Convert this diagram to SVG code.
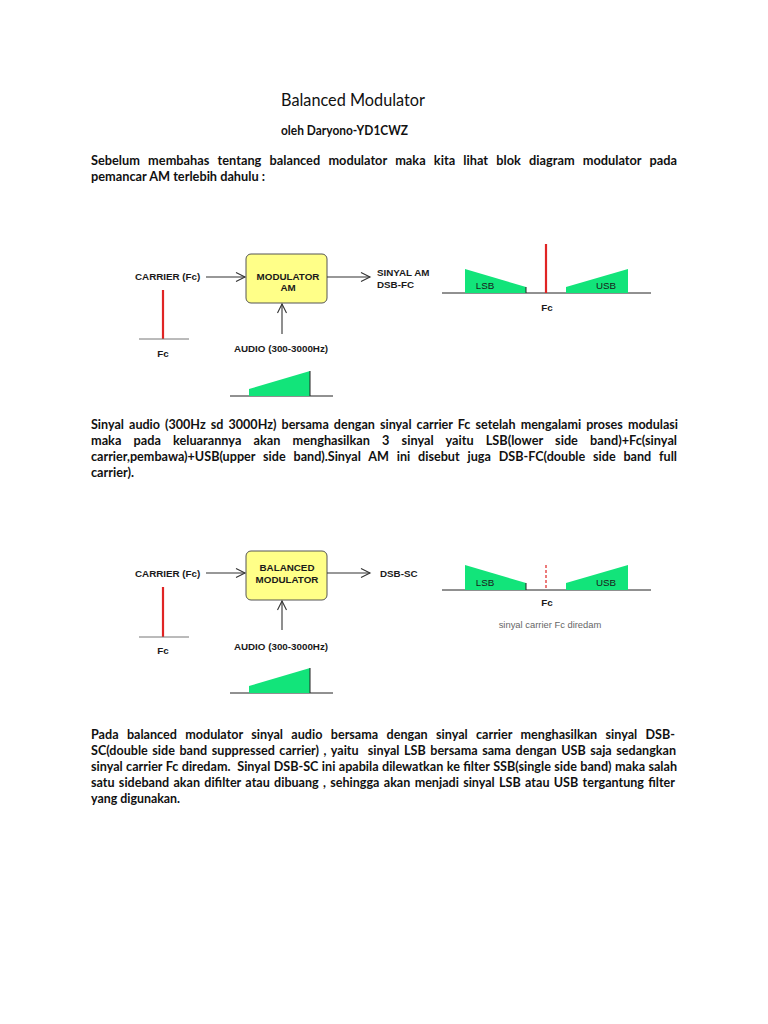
<svg xmlns="http://www.w3.org/2000/svg" width="768" height="1024" viewBox="0 0 768 1024">
<style>
  .b{font-family:Lato,"Liberation Sans",sans-serif;font-weight:700;font-size:14px;fill:#111}
  .t{font-family:Lato,"Liberation Sans",sans-serif;font-weight:400;font-size:18px;fill:#111}
  .d{font-family:"Liberation Sans",Arial,sans-serif;font-weight:700;font-size:9.8px;fill:#1a1a1a}
  .dr{font-family:"Liberation Sans",Arial,sans-serif;font-weight:400;font-size:9.8px;fill:#1a1a1a}
  .note{font-family:"Liberation Sans",Arial,sans-serif;font-weight:400;font-size:9.4px;fill:#666}
  .box{fill:#ffff88;stroke:#555;stroke-width:1}
  .ax{stroke:#222;stroke-width:1;fill:none}
  .axg{stroke:#777;stroke-width:1;fill:none}
  .red{stroke:#e02424;stroke-width:2.2;fill:none}
  .redd{stroke:#e02424;stroke-width:1.2;stroke-dasharray:3 2;fill:none}
  .grn{fill:#12e47a;stroke:none}
  .edge{stroke:#222;stroke-width:1;fill:none}
  .conn{stroke:#333;stroke-width:1.1;fill:none;marker-end:url(#arr)}
</style>
<defs>
  <marker id="arr" markerUnits="userSpaceOnUse" markerWidth="12" markerHeight="12" refX="10" refY="6" orient="auto">
    <path d="M1,1.5 L10,6 L1,10.5" fill="none" stroke="#333" stroke-width="1.1"/>
  </marker>
</defs>
<rect x="0" y="0" width="768" height="1024" fill="#ffffff"/>

<g id="title">
  <text class="t" x="281" y="106" textLength="144" lengthAdjust="spacingAndGlyphs">Balanced Modulator</text>
  <text class="b" x="281" y="135" textLength="127" lengthAdjust="spacingAndGlyphs">oleh Daryono-YD1CWZ</text>
</g>

<g id="para1">
  <text class="b" x="91" y="165" textLength="586" lengthAdjust="spacingAndGlyphs" style="word-spacing:5.6px">Sebelum membahas tentang balanced modulator maka kita lihat blok diagram modulator pada</text>
  <text class="b" x="91" y="181" textLength="174" lengthAdjust="spacingAndGlyphs">pemancar AM terlebih dahulu :</text>
</g>

<!-- Diagram 1 -->
<g id="carrier1">
  <text class="d" x="135" y="280">CARRIER (Fc)</text>
  <line class="red" x1="163" y1="290" x2="163" y2="339"/>
  <line class="axg" x1="139" y1="339" x2="189" y2="339"/>
  <text class="d" x="163" y="357" text-anchor="middle">Fc</text>
</g>
<g id="modulator-am">
  <rect class="box" x="246" y="254" width="81" height="49" rx="5" ry="5"/>
  <text class="d" x="288" y="279.5" text-anchor="middle">MODULATOR</text>
  <text class="d" x="288" y="291" text-anchor="middle">AM</text>
</g>
<g id="output1">
  <text class="d" x="377" y="275.5">SINYAL AM</text>
  <text class="d" x="377" y="288">DSB-FC</text>
</g>
<g id="audio1">
  <text class="d" x="281" y="352" text-anchor="middle">AUDIO (300-3000Hz)</text>
  <line class="ax" x1="230" y1="396" x2="333" y2="396"/>
  <polygon class="grn" points="249,396 249,389 310,371 310,396"/>
  <line class="edge" x1="310" y1="371" x2="310" y2="396"/>
</g>
<g id="spectrum1">
  <line class="ax" x1="442" y1="293" x2="651" y2="293"/>
  <polygon class="grn" points="465,293 465,269 526,287 526,293"/>
  <line class="edge" x1="526" y1="287" x2="526" y2="293"/>
  <polygon class="grn" points="566,293 566,287 628,269 628,293"/>
  <line class="red" x1="546" y1="244" x2="546" y2="293"/>
  <text class="dr" x="485" y="289" text-anchor="middle">LSB</text>
  <text class="dr" x="606" y="289" text-anchor="middle">USB</text>
  <text class="d" x="547" y="311" text-anchor="middle">Fc</text>
</g>

<g id="para2">
  <text class="b" x="91" y="429" textLength="587" lengthAdjust="spacingAndGlyphs" style="word-spacing:2.3px">Sinyal audio (300Hz sd 3000Hz) bersama dengan sinyal carrier Fc setelah mengalami proses modulasi</text>
  <text class="b" x="91" y="445" textLength="586" lengthAdjust="spacingAndGlyphs" style="word-spacing:10px">maka pada keluarannya akan menghasilkan 3 sinyal yaitu LSB(lower side band)+Fc(sinyal</text>
  <text class="b" x="91" y="461" textLength="586" lengthAdjust="spacingAndGlyphs" style="word-spacing:5.3px">carrier,pembawa)+USB(upper side band).Sinyal AM ini disebut juga DSB-FC(double side band full</text>
  <text class="b" x="91" y="477" textLength="43" lengthAdjust="spacingAndGlyphs">carrier).</text>
</g>

<!-- Diagram 2 -->
<g id="carrier2">
  <text class="d" x="135" y="577">CARRIER (Fc)</text>
  <line class="red" x1="163" y1="587" x2="163" y2="637"/>
  <line class="axg" x1="139" y1="637" x2="189" y2="637"/>
  <text class="d" x="163" y="654" text-anchor="middle">Fc</text>
</g>
<g id="balanced-modulator">
  <rect class="box" x="246" y="551" width="81" height="49" rx="5" ry="5"/>
  <text class="d" x="287" y="571" text-anchor="middle">BALANCED</text>
  <text class="d" x="287" y="583" text-anchor="middle">MODULATOR</text>
</g>
<g id="output2">
  <text class="d" x="380" y="577">DSB-SC</text>
</g>
<g id="audio2">
  <text class="d" x="281" y="650" text-anchor="middle">AUDIO (300-3000Hz)</text>
  <line class="ax" x1="230" y1="693" x2="333" y2="693"/>
  <polygon class="grn" points="249,693 249,686 310,668 310,693"/>
  <line class="edge" x1="310" y1="668" x2="310" y2="693"/>
</g>
<g id="spectrum2">
  <line class="ax" x1="442" y1="590" x2="651" y2="590"/>
  <polygon class="grn" points="465,590 465,565 526,583 526,590"/>
  <line class="edge" x1="526" y1="583" x2="526" y2="590"/>
  <polygon class="grn" points="566,590 566,583 628,565 628,590"/>
  <line class="redd" x1="546" y1="565" x2="546" y2="590"/>
  <text class="dr" x="485" y="586" text-anchor="middle">LSB</text>
  <text class="dr" x="606" y="586" text-anchor="middle">USB</text>
  <text class="d" x="547" y="606" text-anchor="middle">Fc</text>
  <text class="note" x="550" y="628" text-anchor="middle">sinyal carrier Fc diredam</text>
</g>

<g id="connectors">
  <line class="conn" x1="206" y1="277" x2="245" y2="277"/>
  <line class="conn" x1="327" y1="277" x2="370" y2="277"/>
  <line class="conn" x1="282" y1="334" x2="282" y2="304"/>
  <line class="conn" x1="206" y1="573" x2="245" y2="573"/>
  <line class="conn" x1="327" y1="573" x2="370" y2="573"/>
  <line class="conn" x1="282" y1="630" x2="282" y2="601"/>
</g>

<g id="para3">
  <text class="b" x="91" y="739" textLength="584" lengthAdjust="spacingAndGlyphs" style="word-spacing:5.9px">Pada balanced modulator sinyal audio bersama dengan sinyal carrier menghasilkan sinyal DSB-</text>
  <text class="b" x="91" y="755" textLength="585" lengthAdjust="spacingAndGlyphs" style="word-spacing:1.7px">SC(double side band suppressed carrier) , yaitu &#160;sinyal LSB bersama sama dengan USB saja sedangkan</text>
  <text class="b" x="91" y="771" textLength="586" lengthAdjust="spacingAndGlyphs" style="word-spacing:0.4px">sinyal carrier Fc diredam. &#160;Sinyal DSB-SC ini apabila dilewatkan ke filter SSB(single side band) maka salah</text>
  <text class="b" x="91" y="787" textLength="584" lengthAdjust="spacingAndGlyphs" style="word-spacing:1.4px">satu sideband akan difilter atau dibuang , sehingga akan menjadi sinyal LSB atau USB tergantung filter</text>
  <text class="b" x="91" y="803" textLength="89" lengthAdjust="spacingAndGlyphs">yang digunakan.</text>
</g>
</svg>
